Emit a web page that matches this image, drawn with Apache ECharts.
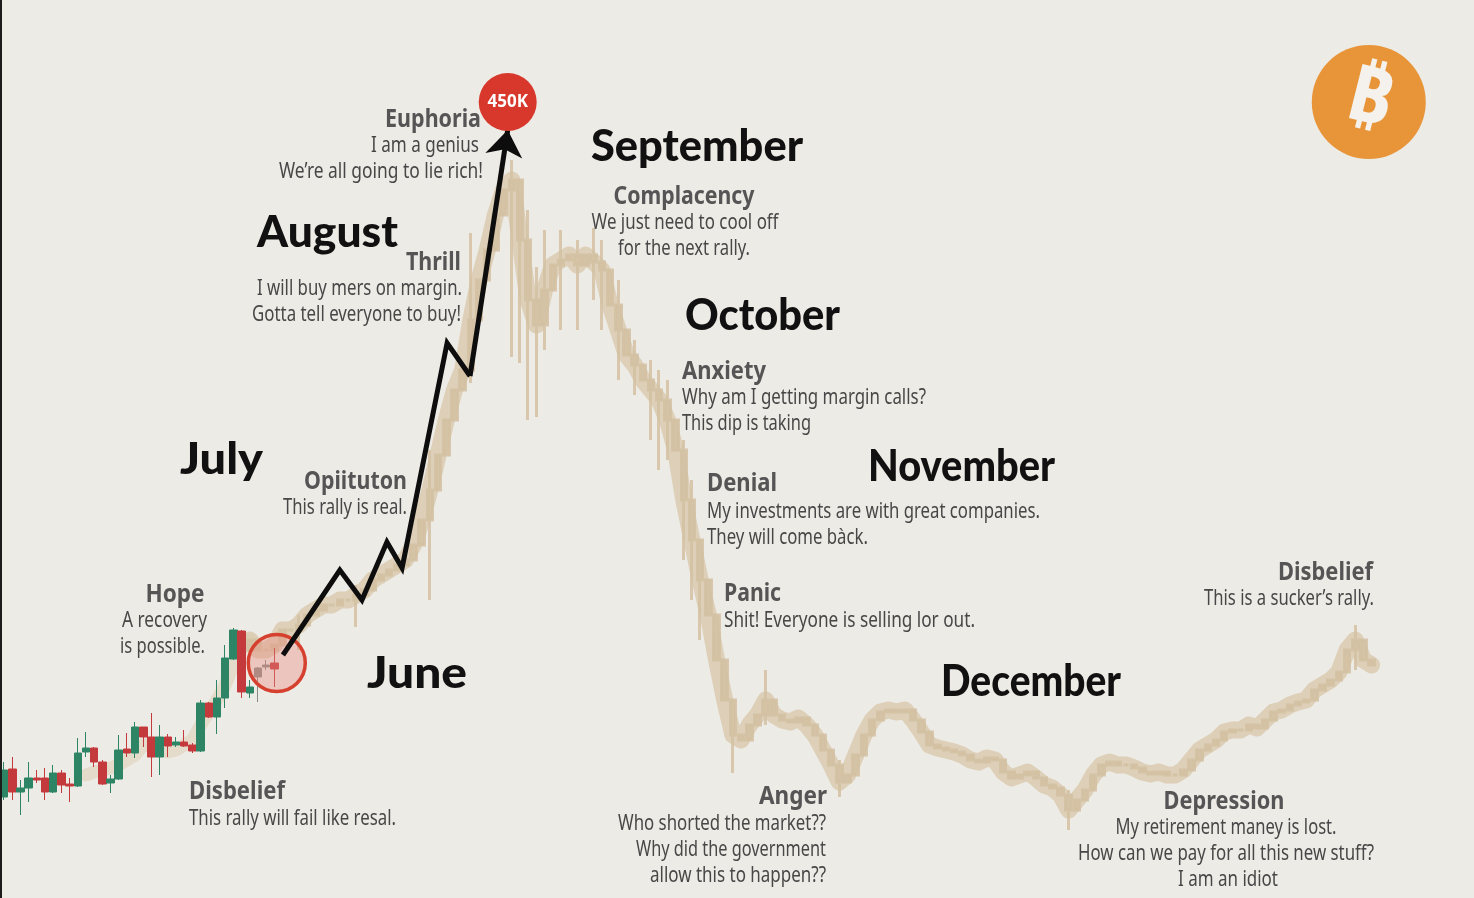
<!DOCTYPE html>
<html>
<head>
<meta charset="utf-8">
<script src="https://cdn.jsdelivr.net/npm/echarts@6/dist/echarts.min.js"></script>
<style>
html,body{margin:0;padding:0;background:#EDEBE6;overflow:hidden;}
#chart{width:1474px;height:898px;position:relative;}
#edge{position:absolute;left:0;top:0;width:2px;height:898px;background:#1c1c1c;z-index:5;}
</style>
</head>
<body>
<div id="chart"></div>
<div id="edge"></div>
<script>
// ---------- DATA ----------
const dayCount = 180;
const days = Array.from({length: dayCount}, (_, i) => 'Day ' + (i + 1));

// Early colored candles [open, close, low, high] (price units, K)
const candles = [
  [116.5,130,115,134],[130.5,119,115,136.5],[119,121,107.5,125],[121,126,114,134],
  [126,125,123.5,130],[126,119,115,131],[119,128.5,118.5,132.5],[128.5,122.5,118.5,130],
  [123,122,114,126],[122,138.5,121.5,146],[139,141,136.5,149],[141,134,131.5,141.5],
  [134,123,122.5,135],[123.5,125.5,118.5,127.5],[125.5,140,125,147.5],[140.5,138.5,136.5,148.5],
  [138.5,151.5,136,154],[151.5,146.5,141.5,151.5],[146.5,136.5,126.5,158.5],[136.5,146.5,127.5,152.5],
  [146.5,142,136.5,148],[142.5,144,141.5,146.5],[144,142,141.5,150],[142.5,139.5,138.5,143.5],
  [139.5,163.5,139,165],[163.5,156.5,156,164],[156.5,166,148,175],[166,186,161,192.5],
  [185.5,200,185,201],[199.5,169,166,200],[168.5,171.5,166,175],[176.5,181,164,181.5],
  [181.5,182.5,180,185],[183.5,180.5,171.5,191]
];
const fadedCandles = [31, 32];

// Main price path (closing values) starting at day index 10
const pathFirstDay = 10;
const pathFaintUntil = 30;   // path is faint behind the early candles
const pathClose = [
  127.5,129,130,131,132.5,135,137.5,142.5,142.5,140,
  139,140,142.5,145,152.5,159,165,172.5,182.5,190,
  195,190,190,192.5,200,200,202.5,207.5,210,212.5,
  212.5,215,215,217.5,220,225,227.5,230,232.5,235,
  242.5,255,270,287.5,305,320,330,355,375,390,
  407.5,420,425,395,365,352.5,370,382.5,385,387.5,
  382.5,387.5,384,380,362.5,350,337.5,332.5,325,320,
  315,305,290,265,245,225,207.5,185,165,147.5,
  145,152.5,157.5,165,157.5,155,154,156,152.5,147.5,
  140,132.5,124,127.5,137.5,147.5,155,159,160,159,
  160,155,149,142.5,141,140,139,137.5,135,134,
  136,135,129,126,127.5,129,126,122.5,121,117.5,
  110,115,120,127.5,132.5,134,132.5,132.5,131,129,
  128,129,127.5,127.5,130,135,140,142.5,145,149,
  150,150,152.5,151,155,159,160,162.5,164,165,
  170,172.5,175,179,190,195,185,182.5
];
// Wick extremes [day index, low, high]
const pathWicks = [
  [21,113.5,155],[28,165,195],[36,190,207.5],[43,201.5,222.5],[52,215,290],
  [57,323.5,398.5],[62,336.5,435],[63,333.5,415],[64,305,410],[65,306.5,381.5],
  [66,340,400],[68,350,400],[70,350,395],[72,365,401],[73,350,395],
  [75,325,375],[77,317.5,345],[79,295,335],[80,280,330],[81,285,325],
  [83,235,295],[84,215,275],[85,195,235],[89,128.5,157.5],[93,152.5,180],
  [102,116.5,135],[130,100,120],[165,180,202.5]
];

// Emotional arrow path [day, price]
const arrowPath = [[34.05,187.5],[41.0,230],[43.7,215],[46.75,244],[48.6,231],[54.1,343.5],[56.9,327]];
const arrowTip = [61.5,450];
const peakMarker = [61.5,464];
const peakLabel = '450K';
const hopeRing = [33.3,183.5];
const coinPos = [166.65,464];

// Text annotations
const months = ['August','September','October','July','November','June','December'];
const phaseTitles = ['Euphoria','Thrill','Complacency','Anxiety','Opiituton','Denial','Hope','Panic','Disbelief','Disbelief','Anger','Depression'];
const phaseLines = [
  ['I am a genius','We\u2019re all going to lie rich!'],
  ['I will buy mers on margin.','Gotta tell everyone to buy!'],
  ['We just need to cool off','for the next rally.'],
  ['Why am I getting margin calls?','This dip is taking'],
  ['This rally is real.'],
  ['My investments are with great companies.','They will come ba\u0300ck.'],
  ['A recovery','is possible.'],
  ['Shit! Everyone is selling lor out.'],
  ['This is a sucker\u2019s rally.'],
  ['This rally will fail like resal.'],
  ['Who shorted the market??','Why did the government','allow this to happen??'],
  ['My retirement maney is lost.','How can we pay for all this new stuff?','I am an idiot']
];

// ---------- LAYOUT (positions / widths of text, px) ----------
const monthLayout = [[257,233,141],[591,147,212],[685,316,155],[180,460,83],[868,467,187],[367,674,100],[941,682,180]];
const phaseLayout = [
  {t:[481,120,'right',96],  a:'right',  xs:[479,483], y:146, w:[108,204]},
  {t:[461,263,'right',55],  a:'right',  xs:[462,461], y:289, w:[205,209]},
  {t:[684,197,'center',141],a:'center', xs:[685,684], y:223, w:[187,132]},
  {t:[682,372,'left',84],   a:'left',   xs:[682,682], y:398, w:[244,129]},
  {t:[407,482,'right',103], a:'right',  xs:[407],     y:508, w:[124]},
  {t:[707,484,'left',70],   a:'left',   xs:[707,707], y:512, w:[333,161]},
  {t:[175,595,'center',59], a:'right',  xs:[207,205], y:621, w:[85,85]},
  {t:[724,594,'left',57],   a:'left',   xs:[724],     y:621, w:[251]},
  {t:[1373,573,'right',95], a:'right',  xs:[1374],    y:599, w:[170]},
  {t:[189,792,'left',96],   a:'left',   xs:[189],     y:819, w:[207]},
  {t:[827,797,'right',68],  a:'right',  xs:[826,826,826], y:824, w:[208,190,176]},
  {t:[1224,802,'center',121],a:'center',xs:[1226,1226,1228], y:828, w:[221,296,100]}
];

// ---------- BUILD ----------
const closeMain = new Array(dayCount).fill('-');
const closeFaint = new Array(dayCount).fill('-');
pathClose.forEach((v, k) => {
  const i = pathFirstDay + k;
  if (i <= pathFaintUntil) closeFaint[i] = v;
  if (i >= pathFaintUntil) closeMain[i] = v;
});
const wickMap = {};
pathWicks.forEach(w => { wickMap[w[0]] = [w[1], w[2]]; });
const pathCandles = new Array(dayCount).fill('-');
pathClose.forEach((v, k) => {
  const i = pathFirstDay + k;
  if (i < pathFaintUntil) return;
  const o = k > 0 ? pathClose[k - 1] : v;
  let lo = Math.min(o, v), hi = Math.max(o, v);
  if (wickMap[i]) { lo = Math.min(lo, wickMap[i][0]); hi = Math.max(hi, wickMap[i][1]); }
  pathCandles[i] = [o, v, lo, hi];
});
const candleFull = new Array(dayCount).fill('-');
candles.forEach((c, i) => {
  candleFull[i] = fadedCandles.includes(i)
    ? {value: c, itemStyle: {color: '#8a8a86', color0: '#8a8a86', borderColor: '#8a8a86', borderColor0: '#8a8a86'}}
    : c;
});

const BODY = '"Noto Sans","Open Sans",sans-serif';
const HEAD = 'Lato,"Noto Sans",sans-serif';
const mctx = document.createElement('canvas').getContext('2d');
function measure(text, size, weight, family) {
  mctx.font = weight + ' ' + size + 'px ' + family;
  return mctx.measureText(text).width;
}
function txt(text, x, y, align, size, weight, color, family, width) {
  const s = width ? width / measure(text, size, weight, family) : 1;
  return {
    type: 'text', x: x, y: y, z: 50, scaleX: s, scaleY: 1,
    style: {
      text: text, fill: color,
      fontSize: size, fontWeight: weight, fontFamily: family,
      textAlign: align, textVerticalAlign: 'middle',
      align: align, verticalAlign: 'middle'
    }
  };
}
const graphics = [];
months.forEach((m, k) => {
  const L = monthLayout[k];
  graphics.push(txt(m, L[0], L[1], 'left', 43, 900, '#111111', HEAD, L[2]));
});
phaseTitles.forEach((title, k) => {
  const L = phaseLayout[k];
  graphics.push(txt(title, L.t[0], L.t[1], L.t[2], 25, 'bold', '#555555', BODY, L.t[3]));
  phaseLines[k].forEach((line, j) => {
    graphics.push(txt(line, L.xs[j], L.y + j * 25.7, L.a, 22, 'normal', '#474747', BODY, L.w[j]));
  });
});

const chart = echarts.init(document.getElementById('chart'), null, {renderer: 'canvas'});
chart.setOption({
  backgroundColor: '#EDEBE6',
  animation: false,
  grid: {left: 0, right: 0, top: 0, bottom: 0, containLabel: false},
  xAxis: [
    {type: 'category', data: days, boundaryGap: true, show: false},
    {type: 'value', min: -0.5, max: dayCount - 0.5, show: false}
  ],
  yAxis: [{type: 'value', min: 66, max: 515, show: false, splitLine: {show: false}}],
  series: [
    {
      name: 'Price band (early)', type: 'line', data: closeFaint, xAxisIndex: 0,
      symbol: 'none', z: 1,
      lineStyle: {width: 13, color: '#DCCDB3', opacity: 0.55, join: 'round', cap: 'round'}
    },
    {
      name: 'Price band', type: 'line', data: closeMain, xAxisIndex: 0,
      symbol: 'none', z: 1,
      lineStyle: {width: 17, color: '#D9CAAF', opacity: 0.85, join: 'round', cap: 'round'}
    },
    {
      name: 'Price', type: 'candlestick', data: pathCandles, xAxisIndex: 0, z: 2,
      barWidth: 6,
      itemStyle: {color: '#D3C1A2', color0: '#D3C1A2', borderColor: '#D3C1A2', borderColor0: '#D3C1A2', borderWidth: 3, opacity: 0.85}
    },
    {
      name: 'Candles', type: 'candlestick', data: candleFull, xAxisIndex: 0, z: 3,
      barWidth: 8,
      itemStyle: {color: '#2E8566', color0: '#C43A3C', borderColor: '#2E8566', borderColor0: '#C43A3C', borderWidth: 1}
    },
    {
      name: 'Hope ring', type: 'scatter', xAxisIndex: 1, z: 4,
      data: [hopeRing], symbolSize: 57,
      itemStyle: {color: 'rgba(235,140,125,0.38)', borderColor: '#D6402F', borderWidth: 3.5, opacity: 1}
    },
    {
      name: 'Emotion', type: 'line', xAxisIndex: 1, z: 6,
      data: arrowPath, symbol: 'none',
      lineStyle: {width: 5, color: '#0d0d0d', join: 'miter'},
      markLine: {
        silent: true, symbol: ['none', 'arrow'], symbolSize: [28, 26],
        label: {show: false},
        lineStyle: {width: 5, color: '#0d0d0d', type: 'solid'},
        data: [[{coord: arrowPath[arrowPath.length - 1]}, {coord: arrowTip}]]
      }
    },
    {
      name: 'Peak', type: 'scatter', xAxisIndex: 1, z: 7,
      data: [peakMarker], symbolSize: 58,
      itemStyle: {color: '#D8382C', opacity: 1},
      label: {show: true, position: 'inside', formatter: peakLabel, color: '#ffffff', fontSize: 17, fontWeight: 'bold', fontFamily: '"Noto Sans",sans-serif'}
    },
    {
      name: 'Bitcoin', type: 'scatter', xAxisIndex: 1, z: 7,
      data: [coinPos], symbolSize: 114,
      itemStyle: {color: '#E8953A', opacity: 1},
      label: {show: true, position: 'inside', formatter: '\u20BF', color: '#F5F1EC', fontSize: 78, fontWeight: 'bold', fontFamily: '"DejaVu Sans","Noto Sans",sans-serif', rotate: -14}
    }
  ],
  graphic: graphics
});
</script>
</body>
</html>
